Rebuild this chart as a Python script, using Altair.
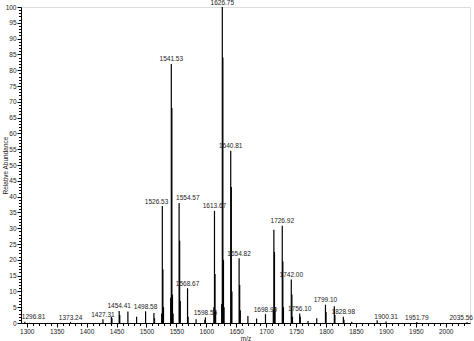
import altair as alt
import pandas as pd

# Peak list (m/z, relative abundance)
mz = [1296.81, 1373.24, 1427.31, 1441.4, 1442.4, 1454.41, 1455.4, 1469.0, 1483.5, 1498.58,
      1512.5, 1513.5, 1525.5, 1526.53, 1527.5, 1528.5, 1540.5, 1541.53, 1542.5, 1543.5,
      1544.5, 1554.57, 1555.5, 1556.5, 1568.67, 1569.6, 1583.0, 1597.5, 1598.55, 1612.6,
      1613.67, 1614.6, 1615.6, 1625.7, 1626.75, 1627.7, 1628.7, 1629.7, 1640.81, 1641.8,
      1642.8, 1654.82, 1655.8, 1656.8, 1669.5, 1684.0, 1698.90, 1711.9, 1712.9, 1713.9,
      1714.9, 1726.92, 1727.9, 1728.9, 1742.00, 1743.0, 1744.0, 1756.10, 1757.0, 1770.0,
      1784.5, 1799.10, 1800.1, 1813.9, 1814.9, 1828.98, 1830.0, 1843.0, 1885.5, 1900.31,
      1951.79, 2035.56]
abundance = [0.4, 0.3, 1.2, 2.0, 1.5, 3.8, 2.5, 3.6, 2.0, 3.7,
             3.2, 1.5, 3.0, 37.0, 17.0, 5.0, 8.0, 82.0, 68.0, 9.0,
             3.0, 38.0, 26.0, 7.0, 11.0, 2.0, 1.2, 1.0, 1.8, 5.0,
             35.5, 15.5, 4.0, 6.0, 100.0, 84.0, 20.0, 5.0, 54.5, 43.0,
             10.0, 20.5, 12.0, 4.0, 2.2, 1.4, 2.8, 4.0, 29.5, 22.5,
             5.0, 30.8, 19.5, 5.0, 13.8, 9.0, 2.0, 3.0, 2.0, 0.6,
             1.5, 5.8, 3.5, 5.3, 2.5, 2.0, 1.0, 0.4, 0.9, 0.5,
             0.3, 0.2]

# Labelled peaks
label_mz = [1296.81, 1373.24, 1427.31, 1454.41, 1498.58, 1526.53, 1541.53, 1554.57,
            1568.67, 1598.55, 1613.67, 1626.75, 1640.81, 1654.82, 1698.90, 1726.92,
            1742.00, 1756.10, 1799.10, 1828.98, 1900.31, 1951.79, 2035.56]
label_y = [0.4, 0.3, 1.2, 3.8, 3.7, 37.0, 82.0, 38.0,
           11.0, 1.8, 35.5, 100.0, 54.5, 20.5, 2.8, 30.8,
           13.8, 3.0, 5.8, 2.0, 0.5, 0.3, 0.2]
label_text = ["1296.81", "1373.24", "1427.31", "1454.41", "1498.58", "1526.53", "1541.53",
              "1554.57", "1568.67", "1598.55", "1613.67", "1626.75", "1640.81", "1654.82",
              "1698.90", "1726.92", "1742.00", "1756.10", "1799.10", "1828.98", "1900.31",
              "1951.79", "2035.56"]
# labels drawn to the left / right of their peak
left_side = ["1526.53", "2035.56"]
right_side = ["1296.81", "1554.57"]

x_major = list(range(1300, 2001, 50))
x_minor = [v for v in range(1300, 2040, 10) if v % 50 != 0]
y_major = list(range(0, 101, 5))
y_minor = [v for v in range(0, 101) if v % 5 != 0]

peaks = pd.DataFrame({"mz": mz, "ab": abundance})
labels = pd.DataFrame({"mz": label_mz, "ab": label_y, "t": label_text})

FONT = "Liberation Sans"
xscale = alt.Scale(domain=[1290.4, 2040.6], nice=False, zero=False)
yscale = alt.Scale(domain=[0, 100], nice=False)

common = dict(grid=False, domainColor="black", tickColor="black", labelColor="#222",
              labelFont=FONT, labelFontSize=6.5, labelOverlap=False, labelFlush=False,
              titleFont=FONT, titleFontSize=6.5, titleFontWeight="normal",
              titleColor="#222", format="d")

xaxis_major = alt.Axis(values=x_major, tickSize=4, labelPadding=1, title="m/z",
                       titlePadding=1, orient="bottom", **common)
yaxis_major = alt.Axis(values=y_major, tickSize=4, labelPadding=1,
                       title="Relative Abundance", titleX=-13, orient="left", **common)
xaxis_minor = alt.Axis(values=x_minor, tickSize=2.5, labels=False, domain=False,
                       title=None, orient="bottom", grid=False, tickColor="black")
yaxis_minor = alt.Axis(values=y_minor, tickSize=2.5, labels=False, domain=False,
                       title=None, orient="left", grid=False, tickColor="black")

bars = alt.Chart(peaks).mark_rule(color="black", strokeWidth=1.2).encode(
    x=alt.X("mz:Q", scale=xscale, axis=xaxis_major),
    y=alt.Y("ab:Q", scale=yscale, axis=yaxis_major),
    y2=alt.datum(0),
)

txt = dict(font=FONT, fontSize=6.5, color="#222", baseline="bottom", dy=-1.5)

center_filter = "indexof(%s, datum.t) < 0" % (str(left_side + right_side).replace("'", '"'))

text = alt.Chart(labels).transform_filter(center_filter).mark_text(**txt).encode(
    x=alt.X("mz:Q", scale=xscale, axis=xaxis_minor),
    y=alt.Y("ab:Q", scale=yscale, axis=yaxis_minor),
    text="t:N",
)

text_left = alt.Chart(labels).transform_filter(
    alt.FieldOneOfPredicate(field="t", oneOf=left_side)
).mark_text(align="right", dx=6, **txt).encode(
    x=alt.X("mz:Q", scale=xscale, axis=None),
    y=alt.Y("ab:Q", scale=yscale, axis=None),
    text="t:N",
)

text_right = alt.Chart(labels).transform_filter(
    alt.FieldOneOfPredicate(field="t", oneOf=right_side)
).mark_text(align="left", dx=-3, **txt).encode(
    x=alt.X("mz:Q", scale=xscale, axis=None),
    y=alt.Y("ab:Q", scale=yscale, axis=None),
    text="t:N",
)

chart = alt.layer(bars, text, text_left, text_right).resolve_axis(
    x="independent", y="independent"
).properties(
    width=449, height=316,
    autosize=alt.AutoSizeParams(type="none"),
    padding={"left": 21, "top": 7, "right": 4, "bottom": 18},
).configure_view(stroke=None).configure(background="white")

chart.save("out.html", embed_options={"renderer": "svg", "actions": False})
